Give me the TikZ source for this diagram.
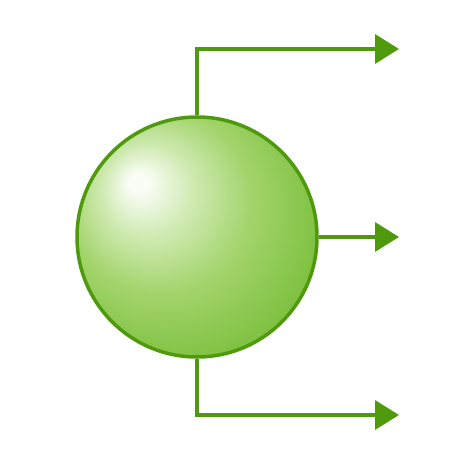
\documentclass[tikz,border=0pt]{standalone}
\usetikzlibrary{arrows.meta}
\definecolor{strokegreen}{HTML}{4F9A0C}
\definecolor{ballhi}{HTML}{F9FDF5}
\definecolor{ballA}{HTML}{D2EBB6}
\definecolor{ballB}{HTML}{A3D46C}
\definecolor{ballC}{HTML}{6AB628}
\pgfdeclareradialshading{greenball}{\pgfpoint{-12.8bp}{11.8bp}}{%
  color(0bp)=(ballhi); color(2bp)=(ballhi); color(9bp)=(ballA);
  color(19bp)=(ballB); color(38bp)=(ballC); color(50bp)=(ballC)}
\tikzset{
  vessel/.style={circle, minimum size=240bp, inner sep=0pt, draw=strokegreen,
    line width=3.5bp, shading=greenball},
  conn/.style={draw=strokegreen, line width=3.5bp,
    -{Triangle[length=24bp,width=29bp]}, fill=none}
}
\begin{document}
\begin{tikzpicture}[x=1bp,y=-1bp]
\useasboundingbox (0,0) rectangle (474,474);
\fill[white] (0,0) rectangle (474,474);
\node[vessel] (c) at (197,237) {};
\coordinate (t) at (399,49);
\coordinate (m) at (399,237);
\coordinate (b) at (399,415);
\draw[conn] (c.north) |- (t);
\draw[conn] (c.east) -- (m);
\draw[conn] (c.south) |- (b);
\end{tikzpicture}
\end{document}
